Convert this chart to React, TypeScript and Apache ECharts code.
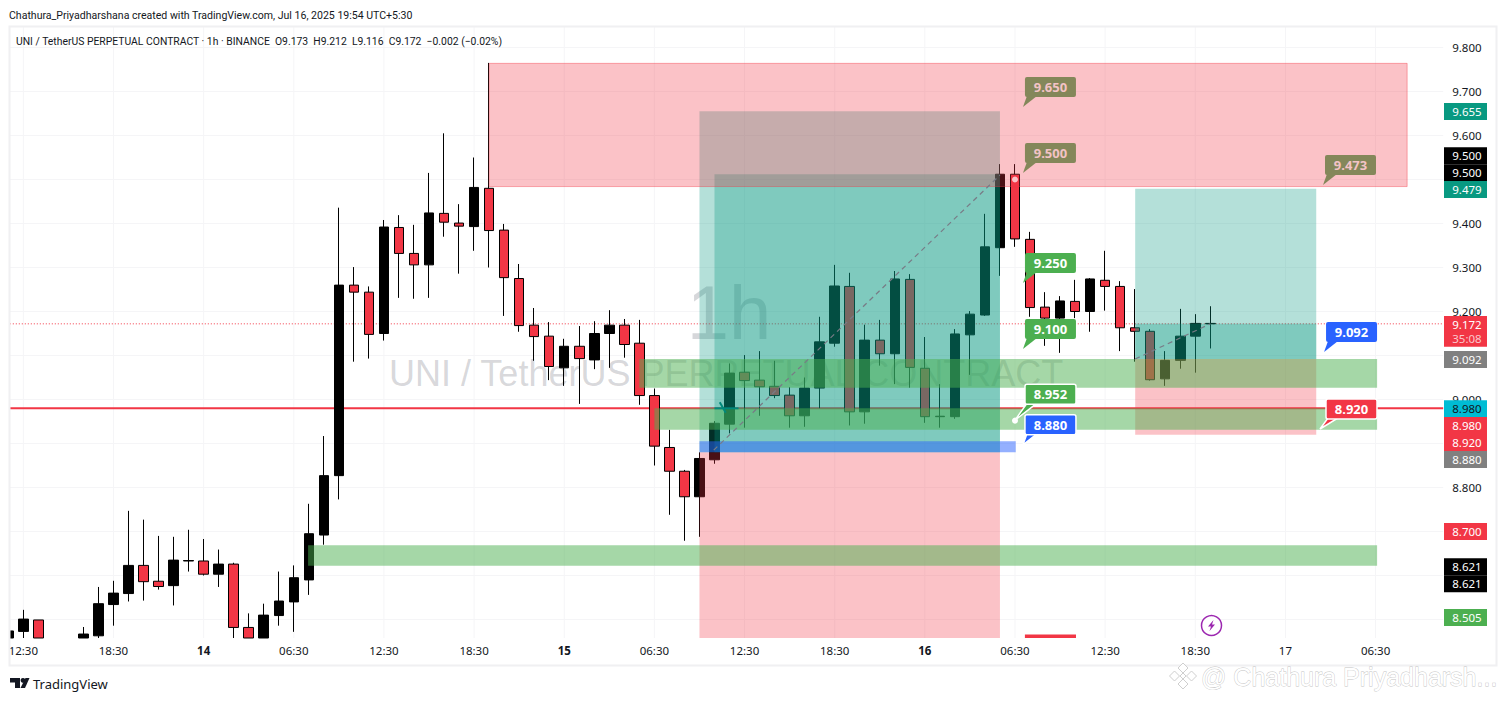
import React, { useEffect, useRef } from "react";
import * as echarts from "echarts";

const FONT = '"Noto Sans"';
const HEAD_FONT = "Roboto";

// Time axis: one category per hour, sixteen of them labelled
const tickIndex = [1, 7, 13, 19, 25, 31, 37, 43, 49, 55, 61, 67, 73, 79, 85, 91];
const tickLabels = ["12:30", "18:30", "14", "06:30", "12:30", "18:30", "15", "06:30", "12:30", "18:30", "16", "06:30", "12:30", "18:30", "17", "06:30"];
const boldLabels = ["14", "15", "16"];
const categoryCount = 96;
const gridTicks = [8.5, 8.6, 8.7, 8.8, 8.9, 9.0, 9.1, 9.2, 9.3, 9.4, 9.5, 9.6, 9.7, 9.8];
const priceTicks = [8.8, 9.0, 9.2, 9.3, 9.4, 9.6, 9.7, 9.8];

// OHLC (the visible pane ends at 8.458)
const opens = [8.458, 8.473, 8.499, 8.42, 8.42, 8.458, 8.463, 8.534, 8.559, 8.623, 8.587, 8.577, 8.633, 8.633, 8.603, 8.626, 8.482, 8.458, 8.509, 8.54, 8.59, 8.692, 8.827, 9.26, 9.244, 9.15, 9.391, 9.332, 9.306, 9.423, 9.401, 9.393, 9.48, 9.385, 9.275, 9.169, 9.144, 9.072, 9.121, 9.09, 9.15, 9.169, 9.128, 9.009, 8.891, 8.837, 8.779, 8.863, 8.944, 9.062, 9.044, 9.03, 9.01, 8.963, 9.026, 9.128, 9.257, 8.972, 9.135, 9.104, 9.273, 9.071, 8.961, 8.961, 9.147, 9.192, 9.345, 9.512, 9.364, 9.21, 9.185, 9.223, 9.2, 9.271, 9.257, 9.163, 9.155, 9.047, 9.089, 9.144, 9.173];
const closes = [8.474, 8.501, 8.458, 8.40, 8.40, 8.467, 8.536, 8.56, 8.623, 8.586, 8.575, 8.635, 8.634, 8.603, 8.626, 8.482, 8.458, 8.51, 8.542, 8.595, 8.695, 8.827, 9.26, 9.244, 9.148, 9.392, 9.332, 9.306, 9.424, 9.403, 9.394, 9.482, 9.384, 9.277, 9.168, 9.143, 9.075, 9.121, 9.093, 9.15, 9.169, 9.125, 9.009, 8.894, 8.837, 8.779, 8.866, 8.946, 9.06, 9.043, 9.029, 9.009, 8.963, 9.026, 9.131, 9.258, 8.972, 9.135, 9.104, 9.274, 9.073, 8.961, 8.962, 9.149, 9.194, 9.347, 9.512, 9.365, 9.209, 9.185, 9.224, 9.2, 9.274, 9.257, 9.163, 9.155, 9.045, 9.089, 9.144, 9.173, 9.172];
const lows = [8.458, 8.458, 8.458, 8.38, 8.38, 8.458, 8.458, 8.486, 8.541, 8.543, 8.568, 8.532, 8.609, 8.6, 8.574, 8.458, 8.458, 8.458, 8.486, 8.472, 8.556, 8.67, 8.773, 9.086, 9.093, 9.134, 9.231, 9.229, 9.231, 9.37, 9.286, 9.338, 9.3, 9.19, 9.154, 9.088, 9.044, 9.031, 8.99, 9.069, 9.072, 9.095, 8.988, 8.85, 8.738, 8.679, 8.688, 8.854, 8.923, 8.936, 8.963, 9.003, 8.936, 8.938, 8.98, 9.12, 8.941, 8.945, 9.077, 9.035, 9.027, 8.947, 8.936, 8.956, 9.056, 9.19, 9.281, 9.347, 9.188, 9.122, 9.106, 9.185, 9.154, 9.202, 9.11, 9.086, 9.043, 9.031, 9.07, 9.061, 9.116];
const highs = [8.48, 8.522, 8.499, 8.44, 8.44, 8.483, 8.574, 8.588, 8.747, 8.727, 8.69, 8.688, 8.704, 8.683, 8.659, 8.629, 8.514, 8.536, 8.609, 8.623, 8.763, 8.917, 9.436, 9.301, 9.257, 9.408, 9.419, 9.397, 9.515, 9.605, 9.444, 9.55, 9.765, 9.399, 9.308, 9.208, 9.176, 9.138, 9.167, 9.178, 9.203, 9.183, 9.181, 9.025, 8.931, 8.84, 8.88, 8.951, 9.082, 9.101, 9.11, 9.088, 9.028, 9.05, 9.188, 9.306, 9.288, 9.17, 9.181, 9.292, 9.285, 9.142, 9.035, 9.16, 9.201, 9.422, 9.535, 9.535, 9.381, 9.244, 9.235, 9.272, 9.276, 9.338, 9.269, 9.251, 9.16, 9.11, 9.206, 9.194, 9.212];

// Horizontal levels
const redLevel = 8.98;
const lastPrice = 9.172;

// Overlay zones as [from bar, to bar, top price, bottom price], back to front
const tealZones = [[46, 66, 9.655, 8.88], [47, 66, 9.512, 8.88], [75, 87.05, 9.479, 9.092], [75, 87.05, 9.172, 9.092]];
const stopZones = [[46, 66, 8.88, 8.4], [75, 87.05, 9.092, 8.92]];
const supplyZones = [[32, 93.1, 9.764, 9.484]];
const demandZones = [[42, 91.1, 9.092, 9.027], [43, 91.1, 8.98, 8.931], [19.95, 91.1, 8.669, 8.622]];
const entryBands = [[46, 67.05, 8.905, 8.88]];
const clippedNotes = [[67.66, 71.06, 8.466, 8.45]];

// Dashed diagonals of the position tools [bar, price, bar, price]
const diagonals = [[46.95, 8.885, 66, 9.51], [75, 9.092, 80, 9.172]];
const tickSegments = [[47, 8.98, 48.6, 8.98], [47.35, 8.994, 47.75, 8.97]];
const handles = [[67, 9.5], [67, 8.952]];

// Price notes: tip of the tail in bar/price terms
const noteTexts = ["9.650", "9.500", "9.250", "9.100", "8.952", "8.880", "9.473", "9.092", "8.920"];
const noteBars = [67.53, 67.53, 67.53, 67.53, 67, 67.53, 87.5, 87.57, 87.3];
const notePrices = [9.665, 9.515, 9.265, 9.115, 8.953, 8.897, 9.4875, 9.108, 8.933];
const noteKinds = ["olive", "olive", "green", "green", "green", "blue", "olive", "blue", "red"];
const noteOutlined = [false, false, false, false, true, true, false, false, true];

// Price scale badges
const badgeTexts = ["9.655", "9.500", "9.500", "9.479", "9.172", "35:08", "9.092", "8.980", "8.980", "8.920", "8.880", "8.700", "8.621", "8.621", "8.505"];
const badgeKinds = ["teal", "black", "black", "teal", "red", "redSub", "gray", "cyan", "red", "red", "gray", "red", "black", "black", "green"];
const badgeTops = [103, 147.3, 164.3, 181, 316, 331, 351, 400.3, 417, 434, 451, 523, 558.3, 575.3, 609];

const headerText = "Chathura_Priyadharshana created with TradingView.com, Jul 16, 2025 19:54 UTC+5:30";
const legendText = "UNI / TetherUS PERPETUAL CONTRACT · 1h · BINANCE  O9.173  H9.212  L9.116  C9.172  −0.002 (−0.02%)";
const watermarkSymbol = "UNI / TetherUS PERPETUAL CONTRACT";
const watermarkInterval = "1h";
const brandText = "TradingView";
const authorText = "@ Chathura Priyadharsh...";

const NOTE_STYLE: Record<string, { fill: string; text: string }> = {
  olive: { fill: "#84875a", text: "#f3c3c6" },
  green: { fill: "#4caf50", text: "#ffffff" },
  blue: { fill: "#2962ff", text: "#ffffff" },
  red: { fill: "#f23645", text: "#ffffff" },
};
const BADGE_STYLE: Record<string, { fill: string; text: string; h: number }> = {
  teal: { fill: "#089981", text: "#ffffff", h: 17 },
  black: { fill: "#000000", text: "#ffffff", h: 17 },
  red: { fill: "#f23645", text: "#ffffff", h: 17 },
  redSub: { fill: "#f23645", text: "#fbc8cc", h: 15.7 },
  gray: { fill: "#808080", text: "#ffffff", h: 17 },
  cyan: { fill: "#00bcd4", text: "#131722", h: 17 },
  green: { fill: "#4caf50", text: "#ffffff", h: 17 },
};

const zoneRows: { row: number[]; fill: string; stroke?: string }[] = [
  ...tealZones.map((row) => ({ row, fill: "rgba(8,153,129,0.3)" })),
  ...stopZones.map((row) => ({ row, fill: "rgba(242,54,69,0.3)" })),
  ...supplyZones.map((row) => ({ row, fill: "rgba(242,54,69,0.3)", stroke: "rgba(242,54,69,0.4)" })),
  ...demandZones.map((row) => ({ row, fill: "rgba(76,175,80,0.5)" })),
  ...entryBands.map((row) => ({ row, fill: "rgba(41,98,255,0.5)" })),
  ...clippedNotes.map((row) => ({ row, fill: "#f23645" })),
];

function xAt(api: any, bar: number) {
  const i = Math.floor(bar);
  return api.coord([i, 0])[0] + (bar - i) * api.size([1, 0])[0];
}
function yAt(api: any, price: number) {
  return api.coord([0, price])[1];
}

function buildOption() {
  const categories = Array.from({ length: categoryCount }, (_, i) => {
    const k = tickIndex.indexOf(i);
    return k >= 0 ? tickLabels[k] : String(i);
  });
  const candles = opens.map((o, i) => [o, closes[i], lows[i], highs[i]]);

  const badgeElements: any[] = [];
  badgeTexts.forEach((text, i) => {
    const s = BADGE_STYLE[badgeKinds[i]];
    badgeElements.push({
      type: "rect", z: 20,
      shape: { x: 1444, y: badgeTops[i], width: 43, height: s.h },
      style: { fill: s.fill },
    });
    badgeElements.push({
      type: "text", z: 21, x: 1467, y: badgeTops[i] + s.h / 2,
      style: { text, fill: s.text, font: `11.5px ${FONT}`, align: "center", verticalAlign: "middle" },
    });
  });

  return {
    animation: false,
    backgroundColor: "#ffffff",
    grid: { left: 0.8, right: 63.8, top: 27, bottom: 63, containLabel: false },
    xAxis: {
      type: "category",
      data: categories,
      boundaryGap: true,
      axisLine: { show: false },
      axisTick: { show: false },
      splitLine: { show: false },
      axisLabel: {
        show: true,
        margin: 6,
        fontFamily: FONT,
        fontSize: 11.5,
        color: "#131722",
        hideOverlap: false,
        interval: (index: number) => tickIndex.includes(index),
        formatter: (v: string) => (boldLabels.includes(v) ? `{d|${v}}` : v),
        rich: { d: { fontWeight: "bold", fontFamily: FONT, fontSize: 11.5, color: "#131722" } },
      },
    },
    yAxis: {
      type: "value",
      position: "right",
      min: 8.458,
      max: 9.8466,
      scale: true,
      axisLine: { show: false },
      axisTick: { show: false, customValues: gridTicks },
      splitLine: { show: true, lineStyle: { color: "#f5f5f7", width: 1 } },
      axisLabel: {
        show: true,
        margin: 9,
        customValues: priceTicks,
        fontFamily: FONT,
        fontSize: 11.5,
        color: "#131722",
        formatter: (v: number) => v.toFixed(3),
      },
    },
    series: [
      {
        type: "custom", name: "time grid", z: 0, silent: true, coordinateSystem: "cartesian2d",
        data: tickIndex.map((i) => [i, 9]), encode: { x: 0, y: 1 },
        renderItem: (params: any, api: any) => {
          const x = api.coord([api.value(0), 9])[0];
          const cs = params.coordSys;
          return { type: "line", shape: { x1: x, y1: cs.y, x2: x, y2: cs.y + cs.height }, style: { stroke: "#f5f5f7", lineWidth: 1 } };
        },
      },
      {
        type: "custom", name: "levels", z: 1, silent: true, coordinateSystem: "cartesian2d",
        data: [[0, redLevel], [0, lastPrice]], encode: { x: 0, y: 1 },
        renderItem: (params: any, api: any) => {
          const cs = params.coordSys;
          const y = yAt(api, api.value(1));
          const solid = params.dataIndex === 0;
          return {
            type: "line",
            shape: { x1: cs.x, y1: y, x2: cs.x + cs.width, y2: y },
            style: { stroke: "#f23645", lineWidth: solid ? 2 : 1, lineDash: solid ? null : [1, 2] },
          };
        },
      },
      {
        type: "candlestick", name: "UNIUSDT.P", z: 2,
        data: candles,
        barWidth: 10,
        clip: true,
        itemStyle: { color: "#000000", color0: "#f23645", borderColor: "#000000", borderColor0: "#000000", borderWidth: 1 },
      },
      {
        type: "custom", name: "zones", z: 3, silent: true, clip: true, coordinateSystem: "cartesian2d",
        data: zoneRows.map((z) => z.row), encode: { x: 0, y: 2 },
        renderItem: (params: any, api: any) => {
          const z = zoneRows[params.dataIndex];
          const x1 = xAt(api, z.row[0]);
          const x2 = xAt(api, z.row[1]);
          const y1 = yAt(api, z.row[2]);
          const y2 = yAt(api, z.row[3]);
          return {
            type: "rect",
            shape: { x: x1, y: y1, width: x2 - x1, height: y2 - y1 },
            style: { fill: z.fill, stroke: z.stroke || null, lineWidth: z.stroke ? 1 : 0 },
          };
        },
      },
      {
        type: "custom", name: "diagonals", z: 4, silent: true, clip: true, coordinateSystem: "cartesian2d",
        data: diagonals, encode: { x: 0, y: 1 },
        renderItem: (_: any, api: any) => ({
          type: "line",
          shape: { x1: xAt(api, api.value(0)), y1: yAt(api, api.value(1)), x2: xAt(api, api.value(2)), y2: yAt(api, api.value(3)) },
          style: { stroke: "rgba(120,123,134,1)", lineWidth: 1.2, lineDash: [5, 4] },
        }),
      },
      {
        type: "custom", name: "tick mark", z: 4, silent: true, coordinateSystem: "cartesian2d",
        data: tickSegments, encode: { x: 0, y: 1 },
        renderItem: (_: any, api: any) => ({
          type: "line",
          shape: { x1: xAt(api, api.value(0)), y1: yAt(api, api.value(1)), x2: xAt(api, api.value(2)), y2: yAt(api, api.value(3)) },
          style: { stroke: "#00897b", lineWidth: 2 },
        }),
      },
      {
        type: "custom", name: "notes", z: 5, silent: true, coordinateSystem: "cartesian2d",
        data: noteBars.map((b, i) => [b, notePrices[i]]), encode: { x: 0, y: 1 },
        renderItem: (params: any, api: any) => {
          const i = params.dataIndex;
          const tipX = xAt(api, api.value(0));
          const tipY = yAt(api, api.value(1));
          const s = NOTE_STYLE[noteKinds[i]];
          const outlined = noteOutlined[i];
          const stuck = noteTexts[i] === "8.952";
          const offsetted = noteTexts[i] === "8.920";
          const bx = tipX + (stuck ? 10 : offsetted ? 6 : 2);
          const bottom = tipY - (stuck ? 16 : 10);
          const stroke = outlined ? "#ffffff" : "none";
          return {
            type: "group",
            children: [
              {
                type: "polygon",
                shape: { points: [[bx + 2, bottom - 1], [bx + 12, bottom - 1], [tipX, tipY]] },
                style: { fill: s.fill, stroke, lineWidth: outlined ? 1.5 : 0 },
              },
              {
                type: "rect",
                shape: { x: bx, y: bottom - 20, width: 51, height: 20, r: 2 },
                style: { fill: s.fill, stroke, lineWidth: outlined ? 1.5 : 0 },
              },
              {
                type: "text",
                x: bx + 25.5, y: bottom - 10,
                style: { text: noteTexts[i], fill: s.text, font: `bold 13px ${FONT}`, align: "center", verticalAlign: "middle" },
              },
            ],
          };
        },
      },
      {
        type: "custom", name: "handles", z: 6, silent: true, coordinateSystem: "cartesian2d",
        data: handles, encode: { x: 0, y: 1 },
        renderItem: (params: any, api: any) => ({
          type: "circle",
          shape: { cx: xAt(api, api.value(0)), cy: yAt(api, api.value(1)), r: 3 },
          style: { fill: params.dataIndex === 0 ? "rgba(255,255,255,0.7)" : "#ffffff" },
        }),
      },
    ],
    graphic: {
      elements: [
        { type: "text", z: 1, x: 729, y: 312, style: { text: watermarkInterval, fill: "rgba(120,123,134,0.3)", font: `76px "Liberation Sans"`, align: "center", verticalAlign: "middle" } },
        { type: "text", z: 1, x: 389, y: 373, style: { text: watermarkSymbol, fill: "rgba(120,123,134,0.3)", font: `36px "Liberation Sans"`, align: "left", verticalAlign: "middle" } },
        { type: "rect", z: 50, shape: { x: 0, y: 0, width: 9, height: 701 }, style: { fill: "#ffffff" } },
        { type: "rect", z: 51, shape: { x: 9.5, y: 26.5, width: 1487, height: 639 }, style: { fill: "none", stroke: "#f0f0f2", lineWidth: 2 } },
        { type: "text", z: 52, x: 9, y: 15, scaleX: 0.96, style: { text: headerText, fill: "#131722", font: `11px ${HEAD_FONT}`, verticalAlign: "middle" } },
        { type: "text", z: 52, x: 16, y: 41.5, scaleX: 0.943, style: { text: legendText, fill: "#131722", font: `11px ${HEAD_FONT}`, verticalAlign: "middle" } },
        // Lightning event marker
        { type: "circle", z: 30, shape: { cx: 1211.5, cy: 625.5, r: 10 }, style: { fill: "#ffffff", stroke: "#9c27b0", lineWidth: 1.5 } },
        { type: "polygon", z: 31, shape: { points: [[1213.5, 620], [1208, 626.5], [1211, 626.5], [1209.5, 631], [1215, 624.5], [1212, 624.5]] }, style: { fill: "#9c27b0" } },
        // TradingView mark
        { type: "polygon", z: 52, shape: { points: [[10, 678], [20, 678], [20, 688], [15, 688], [15, 682.5], [10, 682.5]] }, style: { fill: "#131722" } },
        { type: "circle", z: 52, shape: { cx: 23, cy: 680.3, r: 2.4 }, style: { fill: "#131722" } },
        { type: "polygon", z: 52, shape: { points: [[25.5, 678], [29.5, 678], [25, 688], [20.5, 688]] }, style: { fill: "#131722" } },
        { type: "text", z: 52, x: 33, y: 683.5, style: { text: brandText, fill: "#131722", font: `13px ${FONT}`, verticalAlign: "middle" } },
        // Author stamp
        ...[[1183, 668, 5], [1174.5, 676, 5], [1191.5, 676, 5], [1183, 684, 5], [1183, 676, 3]].map(([cx, cy, r]) => ({
          type: "polygon", z: 53,
          shape: { points: [[cx, cy - r], [cx + r, cy], [cx, cy + r], [cx - r, cy]] },
          style: { fill: "#ffffff", stroke: "#cfcfcf", lineWidth: 1 },
        })),
        { type: "text", z: 53, x: 1201, y: 677, style: { text: authorText, fill: "#ffffff", stroke: "#c4c4c4", lineWidth: 0.8, font: `25px "Liberation Sans"`, verticalAlign: "middle" } },
        ...badgeElements,
      ],
    },
  };
}

export default function App() {
  const ref = useRef<HTMLDivElement | null>(null);
  useEffect(() => {
    document.body.style.margin = "0";
    document.body.style.background = "#ffffff";
    const chart = echarts.init(ref.current as HTMLDivElement, null, { renderer: "svg" });
    chart.setOption(buildOption() as any);
    return () => chart.dispose();
  }, []);
  return <div ref={ref} style={{ position: "absolute", left: 0, top: 0, width: 1507, height: 701 }} />;
}
